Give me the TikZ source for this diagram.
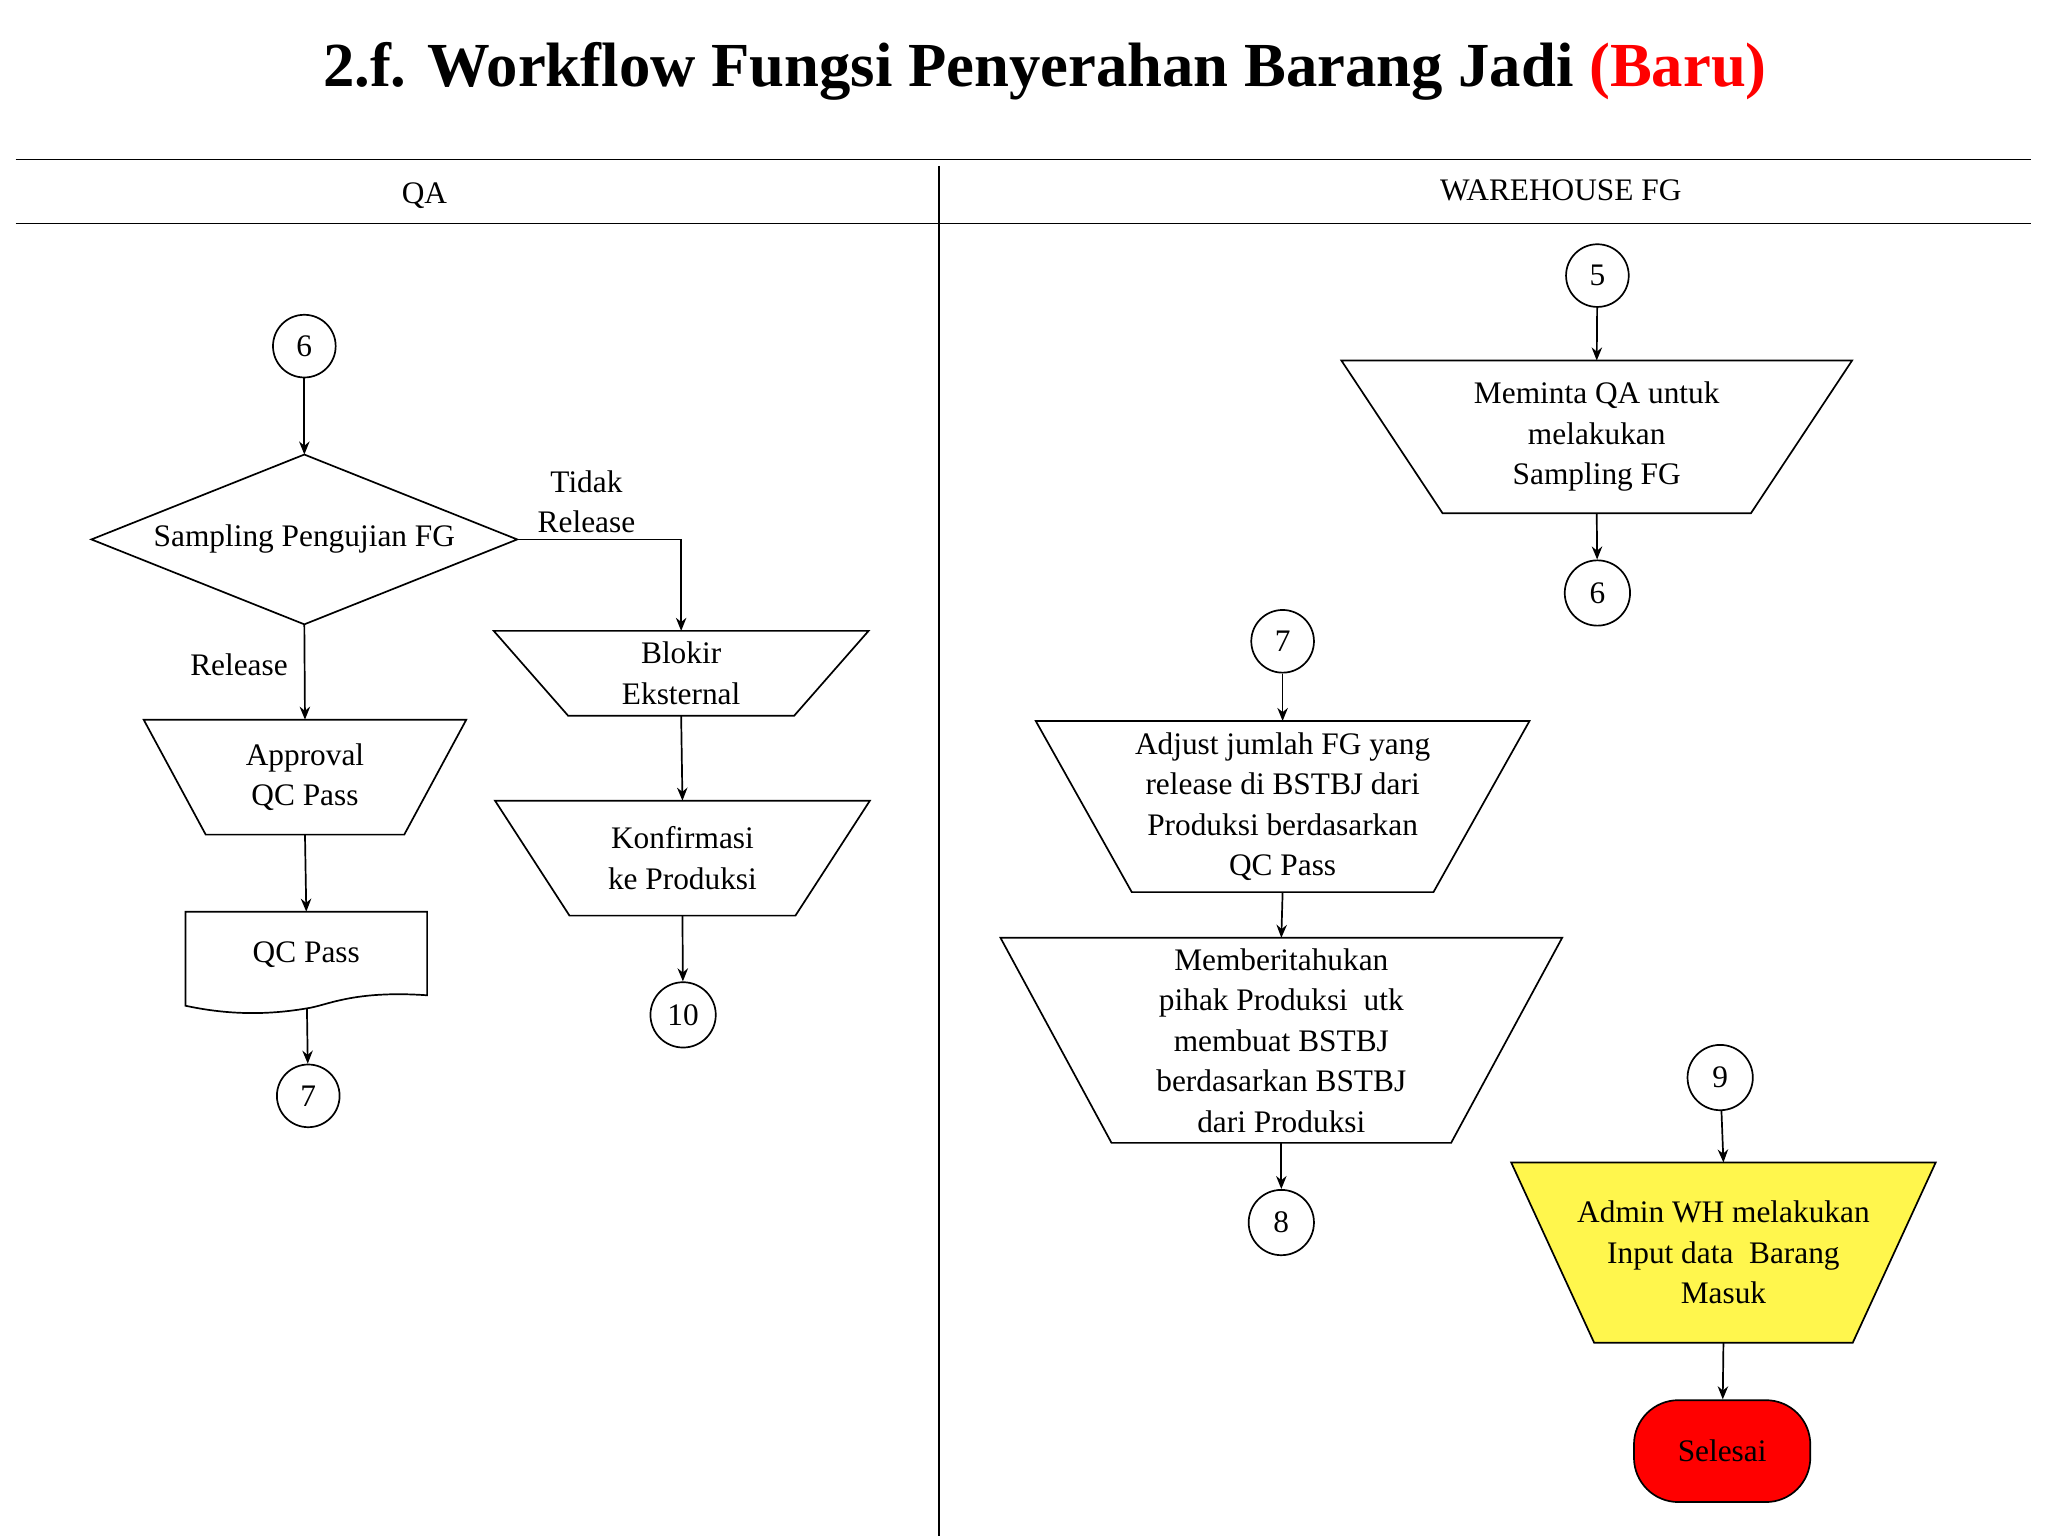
\documentclass[tikz,border=0pt]{standalone}
\usepackage{fontspec}
\setmainfont{Liberation Serif}
\usetikzlibrary{arrows.meta}
\begin{document}
\begin{tikzpicture}[x=1pt,y=-1pt,line width=1.3pt,
  arr/.style={-{Stealth[length=10pt,width=8pt]}},
  txt/.style={font=\fontsize{24}{31}\selectfont,align=center,inner sep=0},
  conn/.style={circle,draw,minimum size=48pt,inner sep=0,font=\fontsize{24}{28}\selectfont}]
\useasboundingbox (0,0) rectangle (1568,1176);
\newcommand\trapz[8]{%
  \draw[fill=#8] (#2-#5,#3) -- (#2+#5,#3) -- (#2+#6,#4) -- (#2-#6,#4) -- cycle;
  \coordinate (#1-n) at (#2,#3); \coordinate (#1-s) at (#2,#4);
  \node[txt] (#1) at (#2,{(#3+#4)/2}) {#7};}
\node[font=\fontsize{48}{56}\selectfont\bfseries] (title) at (800,55) {2.f. Workflow Fungsi Penyerahan Barang Jadi \textcolor{red}{(Baru)}};
\draw (12,122) -- (1555,122); \draw (12,171) -- (1555,171); \draw (719,127) -- (719,1176);
\node[txt] (qa) at (325,150) {QA};
\node[txt] (wh) at (1195,146) {WAREHOUSE FG};
% left
\node[conn] (c6) at (233,265) {6};
\draw (70,413) -- (233,348) -- (396,413) -- (233,478) -- cycle;
\coordinate (dn) at (233,348); \coordinate (ds) at (233,478); \coordinate (de) at (396,413);
\node[txt] (dia) at (233,413) {Sampling Pengujian FG};
\node[txt] (tr) at (449,384) {Tidak\\Release};
\node[txt] (rl) at (183,509) {Release};
\trapz{blok}{521.5}{483}{548}{143.5}{86.5}{Blokir\\Eksternal}{white}
\trapz{konf}{522.5}{613}{701}{143.5}{86.5}{Konfirmasi\\ke Produksi}{white}
\node[conn,minimum size=50pt] (c10) at (523,777) {10};
\trapz{appr}{233.5}{551}{639}{123.5}{76}{Approval\\QC Pass}{white}
\draw (142,698) -- (327,698) -- (327,762) .. controls (270,758) and (250,770) .. (235,772) .. controls (200,778) and (170,776) .. (142,770) -- cycle;
\coordinate (qcn) at (234.5,698); \coordinate (qcs) at (235,772);
\node[txt] (qc) at (234.5,731) {QC Pass};
\node[conn] (c7) at (236,839) {7};
\draw[arr] (c6) -- (dn);
\draw[arr] (de) -| (blok-n);
\draw[arr] (ds) -- (appr-n);
\draw[arr] (blok-s) -- (konf-n);
\draw[arr] (konf-s) -- (c10);
\draw[arr] (appr-s) -- (qcn);
\draw[arr] (qcs) -- (c7);
% right
\node[conn] (r5) at (1223,211) {5};
\trapz{mem}{1222.5}{276}{393}{195.5}{118}{Meminta QA untuk\\melakukan\\Sampling FG}{white}
\node[conn,minimum size=50pt] (r6) at (1223,454) {6};
\node[conn] (r7) at (982,491) {7};
\trapz{adj}{982}{552}{683}{189}{115.5}{Adjust jumlah FG yang\\release di BSTBJ dari\\Produksi berdasarkan\\QC Pass}{white}
\trapz{ber}{981}{718}{875}{215}{130}{Memberitahukan\\pihak Produksi\ \ utk\\membuat BSTBJ\\berdasarkan BSTBJ\\dari Produksi}{white}
\node[conn,minimum size=50pt] (r8) at (981,936) {8};
\node[conn,minimum size=50pt] (r9) at (1317,825) {9};
\trapz{adm}{1319.5}{890}{1028}{162.5}{99}{Admin WH melakukan\\Input data\ \ Barang\\Masuk}{yellow!70!white}
\node[draw,fill=red,rounded corners=34pt,minimum width=135pt,minimum height=78pt,txt] (sel) at (1318.5,1111) {Selesai};
\draw[arr] (r5) -- (mem-n);
\draw[arr] (mem-s) -- (r6);
\draw[arr] (r7) -- (adj-n);
\draw[arr] (adj-s) -- (ber-n);
\draw[arr] (ber-s) -- (r8);
\draw[arr] (r9) -- (adm-n);
\draw[arr] (adm-s) -- (sel);
\end{tikzpicture}
\end{document}
